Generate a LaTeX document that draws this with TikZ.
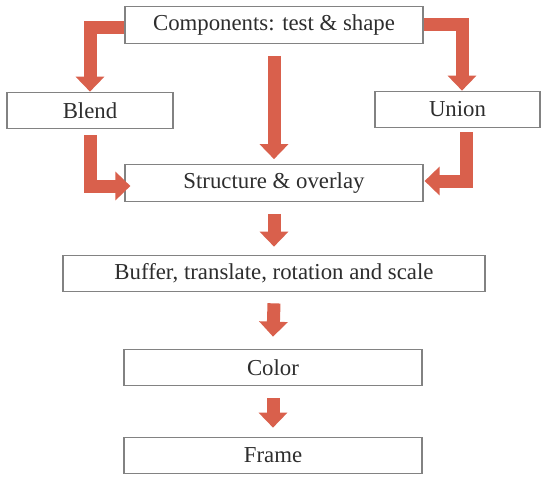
\documentclass[tikz,border=0pt]{standalone}
\usepackage{fontspec}
\setmainfont{Liberation Serif}
\usetikzlibrary{arrows.meta,calc,positioning}
\definecolor{arrowred}{RGB}{217,96,76}
\definecolor{boxgray}{RGB}{130,130,130}
\definecolor{textgray}{RGB}{45,45,45}

\begin{document}
\begin{tikzpicture}[x=1pt,y=-1pt,
  box/.style={draw=boxgray,line width=1.2pt,minimum height=36.5pt,inner sep=0pt,
    text=textgray,font=\fontsize{22.8}{26}\selectfont},
  flow/.style={draw=arrowred,line width=13pt,line join=miter,
    -{Triangle[width=28pt,length=15pt]}}]
\useasboundingbox (0,0) rectangle (550,483);
% boxes
\node[box,minimum width=298pt] (comp) at (274,25) {Components: test \& shape};
\node[box,minimum width=166pt] (blend) at (90,110.5) {Blend};
\node[box,minimum width=165pt] (union) at (457.5,109.5) {Union};
\node[box,minimum width=298pt] (struct) at (274,183) {Structure \& overlay};
\node[box,minimum width=422pt] (buffer) at (274,273.5) {Buffer, translate, rotation and scale};
\node[box,minimum width=298pt] (color) at (273,367.5) {Color};
\node[box,minimum width=298pt] (frame) at (273,455.5) {Frame};
% arrows
\draw[flow] ([yshift=-2.5]comp.west) -| (blend.north);
\draw[flow] ([yshift=1]comp.east) -| ([xshift=4.5]union.north);
\draw[flow] ([yshift=-12]comp.south) -- ([yshift=5]struct.north);
\draw[flow] ([yshift=-6]blend.south) |- ([xshift=6,yshift=-3]struct.west);
\draw[flow] ([xshift=8.5,yshift=-4]union.south) |- ([xshift=1,yshift=2]struct.east);
\draw[flow] ([yshift=-12]struct.south) -- ([yshift=8]buffer.north);
\draw[flow] ([yshift=-11]buffer.south) -- ([yshift=12]color.north);
\draw[flow] ([yshift=-12]color.south) -- ([yshift=9]frame.north);
\end{tikzpicture}
\end{document}
